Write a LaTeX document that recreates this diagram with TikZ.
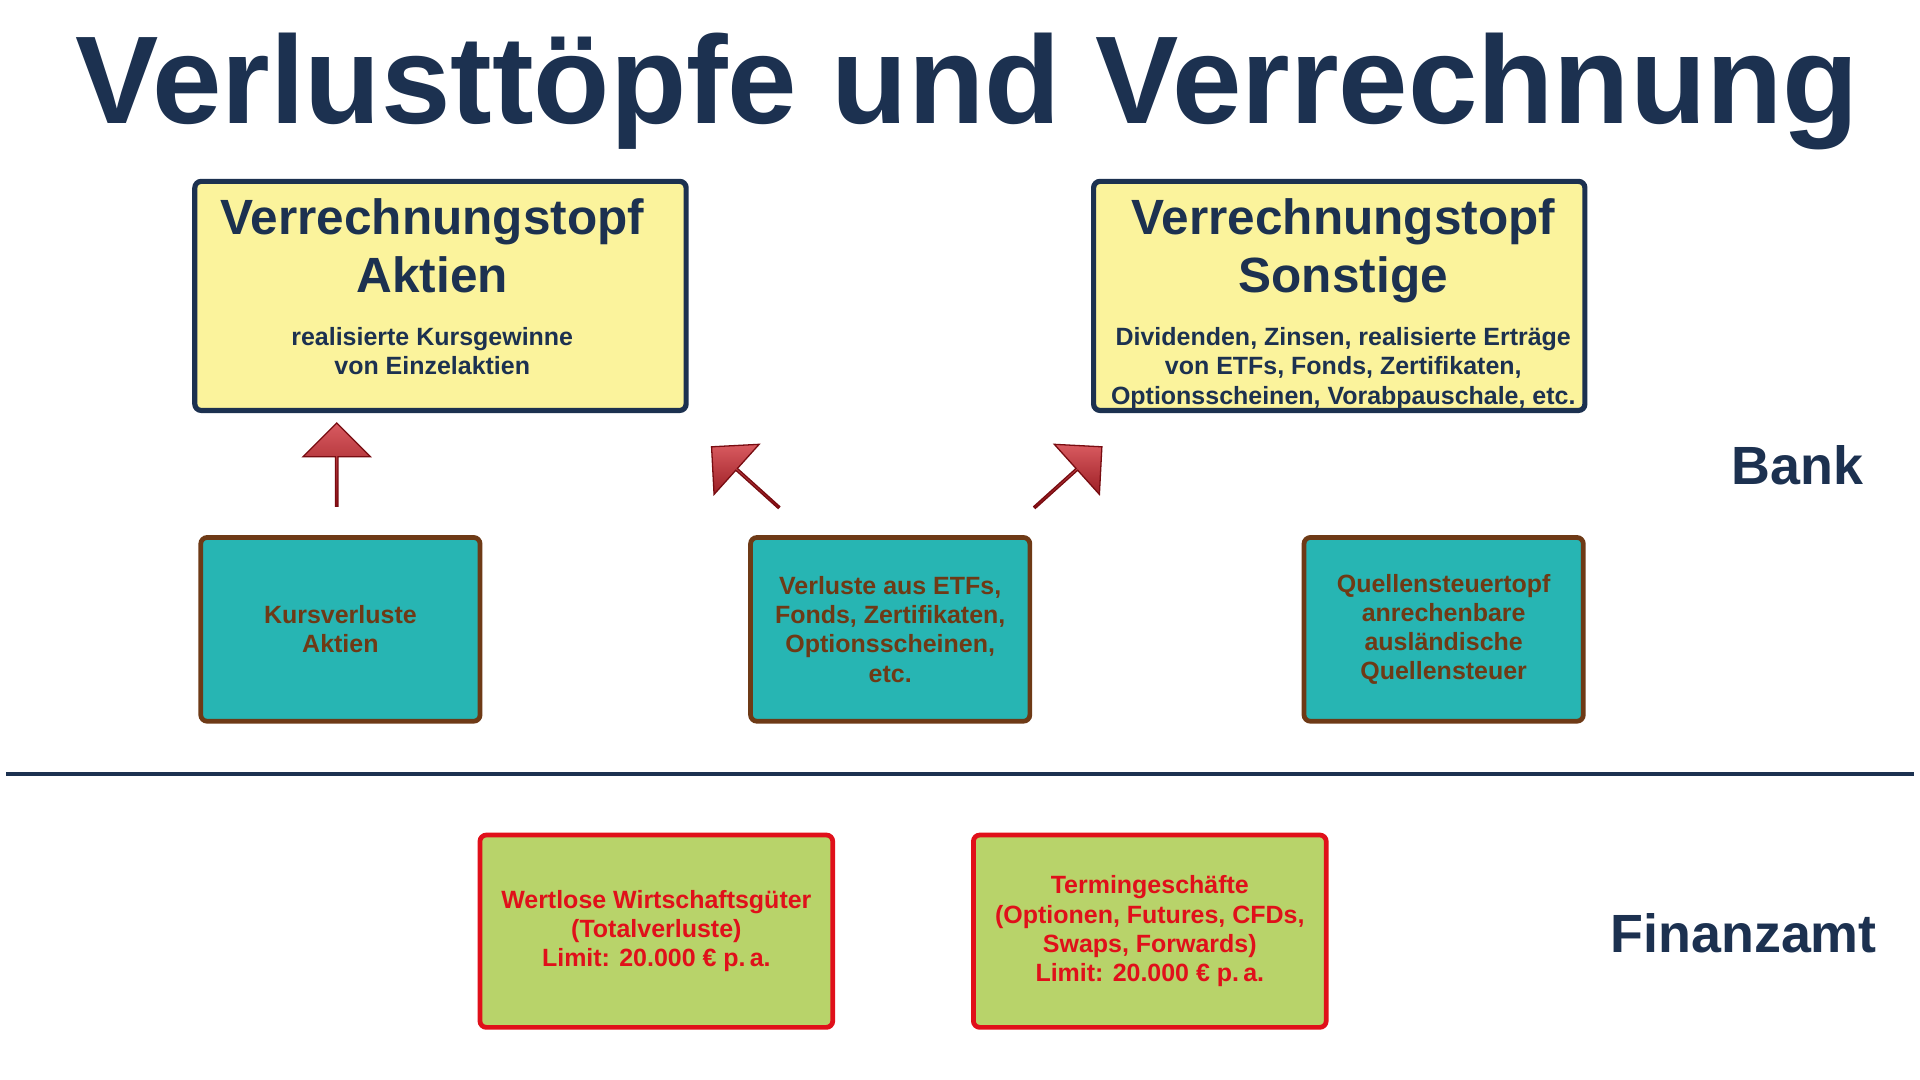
\documentclass[tikz,border=0pt]{standalone}
\usepackage{fontspec}
\setmainfont{Liberation Sans}
\usetikzlibrary{shapes.arrows}
\definecolor{navy}{HTML}{1C3150}
\definecolor{yel}{HTML}{FBF39C}
\definecolor{teal}{HTML}{27B5B3}
\definecolor{brn}{HTML}{6E3A16}
\definecolor{grn}{HTML}{B8D36A}
\definecolor{rd}{HTML}{E0101A}
\definecolor{arr}{HTML}{C8141C}
\tikzset{
 ybox/.style={draw=navy,line width=1.2pt,fill=yel,rounded corners=1.5pt,minimum width=4.01cm,minimum height=1.87cm,anchor=north west,inner sep=0pt},
 tbox/.style={draw=brn,line width=1.1pt,fill=teal,rounded corners=1.5pt,minimum width=2.28cm,minimum height=1.5cm,anchor=north west,text=brn,font=\bfseries\fontsize{5.8}{6.8}\selectfont,align=center,inner sep=0pt},
 gbox/.style={draw=rd,line width=1.1pt,fill=grn,rounded corners=1.5pt,minimum width=2.88cm,minimum height=1.57cm,anchor=north west,text=rd,font=\bfseries\fontsize{5.8}{6.8}\selectfont,align=center,inner sep=0pt},
 barr/.style={single arrow,draw=arr!60!black,line width=0.3pt,top color=arr!70!white,bottom color=arr!70!black,shading angle=0,minimum height=0.68cm,minimum width=0.55cm,single arrow head extend=0.14cm,inner sep=0pt},
 ttl/.style={text=navy,font=\bfseries\fontsize{11.5}{13.5}\selectfont,align=center},
 sub/.style={text=navy,font=\bfseries\fontsize{5.8}{6.8}\selectfont,align=center}
}
\begin{document}
\begin{tikzpicture}[x=0.01cm,y=-0.01cm]
\useasboundingbox[fill=white] (0,0) rectangle (1568,882);
\node[text=navy,font=\bfseries\fontsize{29}{32}\selectfont] (title) at (790,75) {Verlusttöpfe und Verrechnung};
\node[ybox] (a) at (157,146) {};
\node[ttl,anchor=north] (at) at (353,150) {Verrechnungstopf\\Aktien};
\node[sub,anchor=north] (ad) at (353,255) {realisierte Kursgewinne\\von Einzelaktien};
\node[ybox] (s) at (891,146) {};
\node[ttl,anchor=north] (st) at (1097,150) {Verrechnungstopf\\Sonstige};
\node[sub,anchor=north] (sd) at (1097,255) {Dividenden, Zinsen, realisierte Erträge\\von ETFs, Fonds, Zertifikaten,\\Optionsscheinen, Vorabpauschale, etc.};
\node[text=navy,font=\bfseries\fontsize{12.5}{14}\selectfont] (bank) at (1468,380) {Bank};
\node[text=navy,font=\bfseries\fontsize{12.5}{14}\selectfont] (fa) at (1424,762) {Finanzamt};
\node[tbox] (t1) at (162,437) {Kursverluste\\Aktien};
\node[tbox] (t2) at (611,437) {Verluste aus ETFs,\\Fonds, Zertifikaten,\\Optionsscheinen,\\etc.};
\node[tbox] (t3) at (1063,437) {Quellensteuertopf\\anrechenbare\\ausländische\\Quellensteuer};
\node[barr,rotate=90] (u1) at (275,380) {};
\node[barr,rotate=138,minimum height=0.74cm] (u2) at (609,390) {};
\node[barr,rotate=42,minimum height=0.74cm] (u3) at (872,390) {};
\coordinate (l1) at (5,632); \coordinate (l2) at (1563,632);
\draw[navy,line width=1.1pt] (l1) -- (l2);
\node[gbox] (g1) at (390,680) {Wertlose Wirtschaftsgüter\\(Totalverluste)\\Limit: 20.000 € p.\,a.};
\node[gbox] (g2) at (793,680) {Termingeschäfte\\(Optionen, Futures, CFDs,\\Swaps, Forwards)\\Limit: 20.000 € p.\,a.};
\end{tikzpicture}
\end{document}
